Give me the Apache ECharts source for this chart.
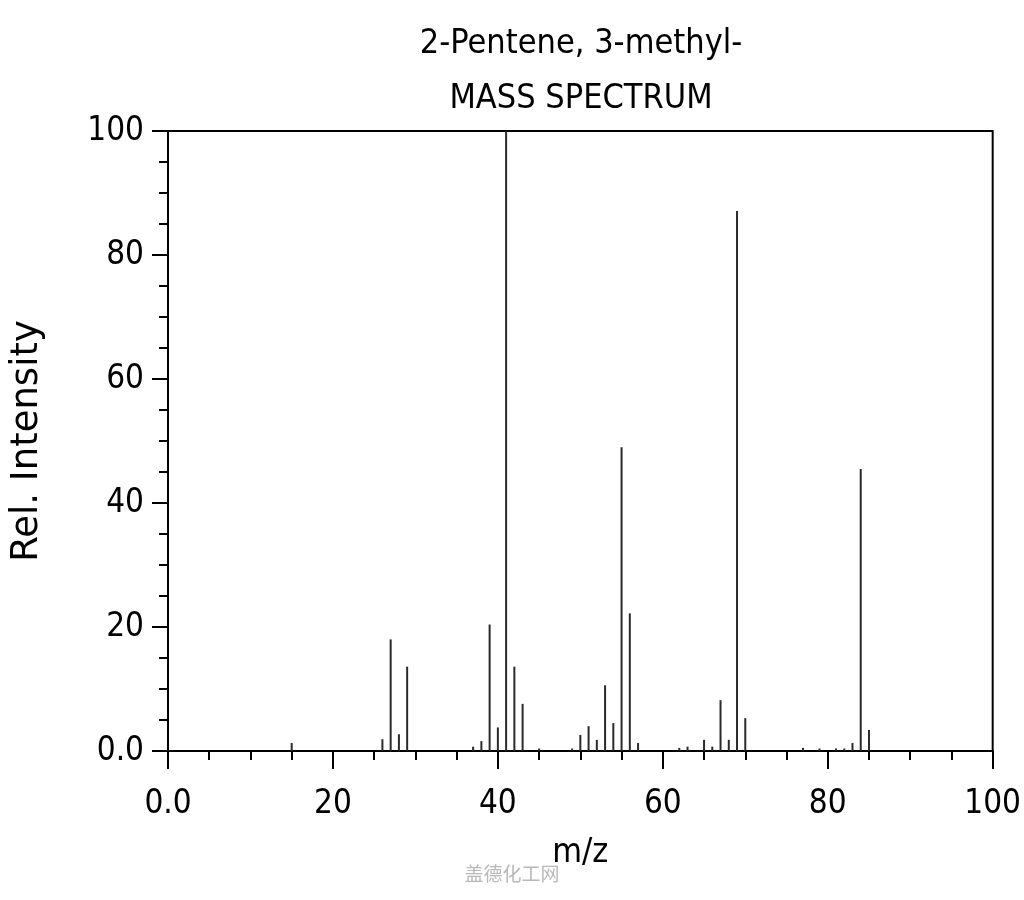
<!DOCTYPE html>
<html>
<head>
<meta charset="utf-8">
<script src="https://cdn.jsdelivr.net/npm/echarts@6/dist/echarts.min.js"></script>
<style>html,body{margin:0;padding:0;background:#fff;}#chart{width:1024px;height:900px;}</style>
</head>
<body>
<div id="chart"></div>
<script>
const titleLines = ['2-Pentene, 3-methyl-', 'MASS SPECTRUM'];
const xAxisName = 'm/z';
const yAxisName = 'Rel. Intensity';
const watermark = '盖德化工网';
const mz = [15,26,27,28,29,37,38,39,40,41,42,43,45,49,50,51,52,53,54,55,56,57,62,63,65,66,67,68,69,70,77,79,81,82,83,84,85];
const intensity = [1.3,1.9,18.0,2.7,13.6,0.7,1.6,20.4,3.8,100,13.6,7.6,0.4,0.4,2.6,4.0,1.8,10.6,4.5,49.0,22.2,1.3,0.5,0.7,1.8,0.7,8.2,1.8,87.1,5.3,0.5,0.4,0.4,0.4,1.3,45.5,3.4];
const xTicks = [0,20,40,60,80,100];
const yTicks = [0,20,40,60,80,100];

const FONT = '"DejaVu Sans Condensed", "DejaVu Sans", sans-serif';
const chart = echarts.init(document.getElementById('chart'), null, {renderer: 'canvas'});
const peaks = mz.map((m, i) => [m, intensity[i]]);
const fmt = v => (v === 0 ? '0.0' : String(v));

chart.setOption({
  animation: false,
  backgroundColor: '#fff',
  grid: {left: 168, right: 31, top: 131, bottom: 149, show: true, borderColor: '#000', borderWidth: 2, backgroundColor: 'transparent'},
  graphic: [
    {type: 'text', x: 581, y: 44, style: {text: titleLines[0], font: '34px ' + FONT, fill: '#000', textAlign: 'center', textVerticalAlign: 'middle'}},
    {type: 'text', x: 581, y: 99, style: {text: titleLines[1], font: '34px ' + FONT, fill: '#000', textAlign: 'center', textVerticalAlign: 'middle'}},
    {type: 'text', x: 512, y: 874, style: {text: watermark, font: '19px "Noto Sans CJK SC"', fill: '#b8b8b8', textAlign: 'center', textVerticalAlign: 'middle'}}
  ],
  xAxis: {
    type: 'value', min: xTicks[0], max: xTicks[xTicks.length - 1], interval: 20,
    name: xAxisName, nameLocation: 'middle', nameGap: 85,
    nameTextStyle: {fontFamily: FONT, fontSize: 34, color: '#000'},
    axisLine: {show: true, onZero: false, lineStyle: {color: '#000', width: 2}},
    axisTick: {show: true, length: 18, lineStyle: {color: '#000', width: 2}},
    minorTick: {show: true, splitNumber: 4, length: 9, lineStyle: {color: '#000', width: 2}},
    splitLine: {show: false}, minorSplitLine: {show: false},
    axisLabel: {fontFamily: FONT, fontSize: 33, color: '#000', margin: 37, formatter: fmt, showMinLabel: true, showMaxLabel: true}
  },
  yAxis: {
    type: 'value', min: yTicks[0], max: yTicks[yTicks.length - 1], interval: 20,
    name: yAxisName, nameLocation: 'middle', nameGap: 122, nameRotate: 90,
    nameTextStyle: {fontFamily: '"DejaVu Sans", sans-serif', fontSize: 37, color: '#000'},
    axisLine: {show: true, onZero: false, lineStyle: {color: '#000', width: 2}},
    axisTick: {show: true, length: 16, lineStyle: {color: '#000', width: 2}},
    minorTick: {show: true, splitNumber: 4, length: 9, lineStyle: {color: '#000', width: 2}},
    splitLine: {show: false}, minorSplitLine: {show: false},
    axisLabel: {fontFamily: FONT, fontSize: 33, color: '#000', margin: 24, formatter: fmt, showMinLabel: true, showMaxLabel: true}
  },
  series: [{
    type: 'custom',
    data: peaks,
    clip: true,
    renderItem: function (params, api) {
      const base = api.coord([api.value(0), 0]);
      const top = api.coord([api.value(0), api.value(1)]);
      return {type: 'line', shape: {x1: base[0], y1: base[1], x2: top[0], y2: top[1]}, style: {stroke: '#2a2a2a', lineWidth: 2}};
    }
  }]
});
</script>
</body>
</html>
